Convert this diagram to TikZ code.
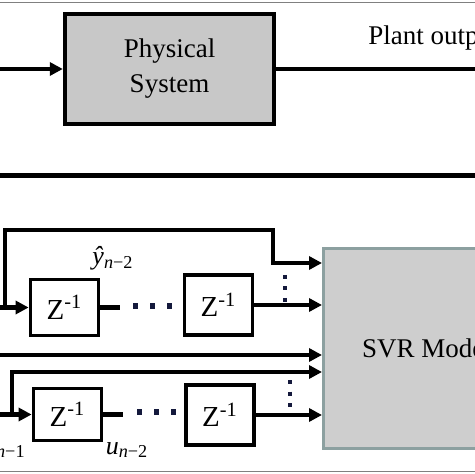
\documentclass[tikz,border=0pt]{standalone}
\usepackage{fontspec}
\setmainfont{Liberation Serif}
\usetikzlibrary{arrows.meta,positioning}
\definecolor{boxgray}{RGB}{200,200,200}
\definecolor{svrgray}{RGB}{206,206,206}
\definecolor{svredge}{RGB}{140,160,160}
\definecolor{dotnavy}{RGB}{20,25,60}
\tikzset{
  wire/.style={line width=2.2pt},
  feed/.style={wire, -{Triangle[length=6.5pt,width=6.5pt]}},
  framerule/.style={line width=0.5pt, gray},
  plantbox/.style={draw, line width=2.2pt, fill=boxgray, align=center,
    font=\fontsize{13.5}{17.5}\selectfont},
  svrbox/.style={draw=svredge, line width=1.5pt, fill=svrgray,
    font=\fontsize{13.5}{16}\selectfont},
  delay/.style={draw, line width=1.9pt, fill=white, minimum width=34pt,
    minimum height=28pt, inner sep=0pt, font=\fontsize{14.5}{16}\selectfont},
  sublabel/.style={inner sep=0pt, font=\fontsize{13}{15}\selectfont},
  hdots/.style={line width=2.6pt, dotnavy, dash pattern=on 2.6pt off 5.9pt},
  vdots/.style={line width=2pt, dotnavy, dash pattern=on 2pt off 3.75pt}
}
\begin{document}
\begin{tikzpicture}[x=0.5pt,y=-0.5pt]
\useasboundingbox (0,0) rectangle (474,474);

% frame lines
\draw[framerule] (0,3) -- (480,3);
\draw[framerule] (0,471) -- (480,471);
\draw[line width=2.5pt] (0,176) -- (480,176);

% plant
\node[plantbox, minimum width=104.5pt, minimum height=55pt] (phys) at (169.5,69) {Physical\\System};
\coordinate (plantin) at (0,69);
\coordinate (plantout) at (480,69);
\draw[feed] (plantin) -- (phys);
\draw[wire] (phys) -- (plantout);
\node[anchor=base west, inner sep=0pt, font=\fontsize{13.5}{16}\selectfont] (plantlab) at (368,45) {Plant output};

% SVR model and tapped delay lines
\node[svrbox, minimum width=103.5pt, minimum height=100pt] (svr) at (427,348.5) {SVR Model};

\node[delay] (z1) at (64.5,307.5) {Z\textsuperscript{-1}};
\node[delay, minimum height=30pt] (z2) at (218.5,305) {Z\textsuperscript{-1}};
\node[delay, minimum height=26pt] (z3) at (67.5,414.5) {Z\textsuperscript{-1}};
\node[delay, minimum height=30pt] (z4) at (220,415) {Z\textsuperscript{-1}};

\coordinate (yin) at (0,307.5);
\coordinate (ybr) at (5,307.5);
\coordinate (ytop) at (273,230);
\coordinate (yto) at (0,263);
\coordinate (ysep) at (0,355);
\coordinate (uin) at (0,414.5);
\coordinate (ubr) at (12,414.5);
\coordinate (uto) at (0,372);

% y branch
\draw[feed] (yin) -- (z1);
\draw[feed] (ybr) |- (ytop) |- (yto -| svr.west);
\draw[wire] (z1.east) -- ++(20,0);
\draw[hdots] (133,306) -- (172,306);
\draw[feed] (z2.east) -- (z2.east -| svr.west);
\draw[vdots] (285,275) -- (285,303);

\draw[feed] (ysep) -- (ysep -| svr.west);

% u branch
\draw[feed] (uin) -- (z3);
\draw[feed] (ubr) |- (uto -| svr.west);
\draw[wire] (z3.east) -- ++(20,0);
\draw[hdots] (137,412) -- (176,412);
\draw[feed] (z4.east) -- (z4.east -| svr.west);
\draw[vdots] (290,380) -- (290,408);

% labels
\node[sublabel] (yhat2) at (113,258) {\textit{ŷ}\textsubscript{\textit{n}−2}};
\node[sublabel] (un2) at (127,450) {\textit{u}\textsubscript{\textit{n}−2}};
\node[sublabel, anchor=east] (un1) at (26,450) {\textit{u}\textsubscript{\textit{n}−1}};
\end{tikzpicture}
\end{document}
